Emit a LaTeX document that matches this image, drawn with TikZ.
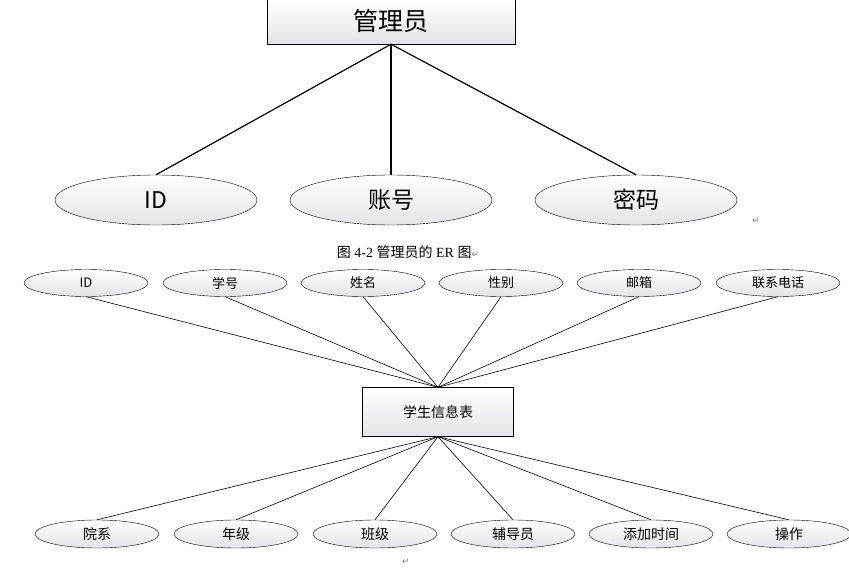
\documentclass[tikz,border=0pt]{standalone}
\usepackage{fontspec}
\usetikzlibrary{shapes.geometric}
\setmainfont{Liberation Serif}
\newfontfamily\cjk{Noto Sans CJK SC}
\newfontfamily\dvs{DejaVu Sans}
\begin{document}
\begin{tikzpicture}[x=1pt,y=-1pt,
 ent/.style={draw, rectangle, top color=white, bottom color=blue!6!gray!20, font=\cjk},
 att/.style={draw, ellipse, top color=white, bottom color=blue!6!gray!20, font=\cjk, inner sep=0pt},
 ln/.style={draw, line width=0.6pt}]
\useasboundingbox (0,0) rectangle (849,569);
\node[ent, minimum width=248pt, minimum height=46pt, font=\cjk\fontsize{25}{27}\selectfont] (adm) at (391,21) {管理员};
\foreach \n/\x/\t in {a1/156/ID,a2/391/账号,a3/636/密码}{
 \node[att, minimum width=202pt, minimum height=50pt, font=\cjk\fontsize{23}{25}\selectfont] (\n) at (\x,200) {\t};
 \draw[line width=1.2pt] (adm.south) -- (\n.north);
}
\node[text=gray, font=\dvs\small] (r1) at (756,221) {↵};
\node[font=\fontsize{14}{16}\selectfont] (cap) at (408,252) {{\cjk 图} 4-2 {\cjk 管理员的} ER {\cjk 图}{\color{gray}\dvs\small ↵}};
\node[ent, minimum width=151pt, minimum height=49pt, font=\cjk\fontsize{14}{16}\selectfont] (stu) at (438,412) {学生信息表};
\foreach \n/\x/\t in {b1/86/ID,b2/225/学号,b3/363/姓名,b4/501/性别,b5/639/邮箱,b6/778/联系电话}{
 \node[att, minimum width=124pt, minimum height=27pt, font=\cjk\fontsize{13}{15}\selectfont] (\n) at (\x,283) {\t};
 \draw[ln] (\n.south) -- (stu.north);
}
\foreach \n/\x/\t in {c1/97/院系,c2/236/年级,c3/375/班级,c4/513/辅导员,c5/651/添加时间,c6/789/操作}{
 \node[att, minimum width=124pt, minimum height=28pt, font=\cjk\fontsize{14}{16}\selectfont] (\n) at (\x,534) {\t};
 \draw[ln] (stu.south) -- (\n.north);
}
\node[text=gray, font=\dvs\small] (r2) at (406,562) {↵};
\end{tikzpicture}
\end{document}
